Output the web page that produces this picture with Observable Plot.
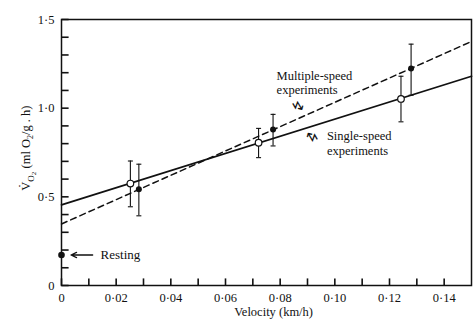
<!DOCTYPE html>
<html>
<head>
<meta charset="utf-8">
<script src="https://cdn.jsdelivr.net/npm/d3@7"></script>
<script src="https://cdn.jsdelivr.net/npm/@observablehq/plot@0.6"></script>
<style>
  html, body { margin: 0; padding: 0; background: #fff; }
  svg { font-family: "Liberation Serif", "DejaVu Serif", serif; }
</style>
</head>
<body>
<div id="chart"></div>
<script>
// ---- data ----
const singleV   = [0.0252, 0.0721, 0.1242];
const singleVO2 = [0.575, 0.805, 1.052];
const singleLo  = [0.444, 0.721, 0.923];
const singleHi  = [0.702, 0.886, 1.180];

const multiV   = [0.0283, 0.0774, 0.1279];
const multiVO2 = [0.543, 0.880, 1.223];
const multiLo  = [0.393, 0.787, 1.073];
const multiHi  = [0.684, 0.965, 1.361];

const restingV   = [0];
const restingVO2 = [0.172];

const fitV         = [0, 0.15];
const singleFitVO2 = [0.455, 1.180];
const multiFitVO2  = [0.347, 1.376];

const xMajorTicks  = [0, 0.02, 0.04, 0.06, 0.08, 0.10, 0.12, 0.14];
const xTickLabels  = ["0", "0·02", "0·04", "0·06", "0·08", "0·10", "0·12", "0·14"];
const xMinorTicks  = [0.01, 0.03, 0.05, 0.07, 0.09, 0.11, 0.13];
const yMajorTicks  = [0, 0.5, 1.0, 1.5];
const yTickLabels  = ["0", "0·5", "1·0", "1·5"];
const yMinorTicks  = [0.1, 0.2, 0.3, 0.4, 0.6, 0.7, 0.8, 0.9, 1.1, 1.2, 1.3, 1.4];

const xLabel = "Velocity (km/h)";
const yLabelPos = [{v: 0, vo2: 0.775}];
const xLabelPos = [{v: 0.0776}];

const notes = [
  {v: 0.0787, vo2: 1.145, text: "Multiple-speed\nexperiments"},
  {v: 0.0971, vo2: 0.805, text: "Single-speed\nexperiments"}
];
const squiggles = [
  {v: 0.0867, vo2: 1.009, rot: -40},
  {v: 0.0915, vo2: 0.842, rot: 140}
];
const restingArrow = [{v1: 0.0114, v2: 0.0035, vo2: 0.172}];
const restingNote  = [{v: 0.0143, vo2: 0.172, text: "Resting"}];

// tick mark lengths in data units (about 7 px)
const xTickLen = 0.040;
const yTickLen = 0.0026;

// ---- build tables ----
const single = singleV.map((v, i) => ({v, vo2: singleVO2[i], lo: singleLo[i], hi: singleHi[i]}));
const multi  = multiV.map((v, i) => ({v, vo2: multiVO2[i], lo: multiLo[i], hi: multiHi[i]}));
const bars = single.concat(multi);
const resting = restingV.map((v, i) => ({v, vo2: restingVO2[i]}));
const singleFit = fitV.map((v, i) => ({v, vo2: singleFitVO2[i]}));
const multiFit  = fitV.map((v, i) => ({v, vo2: multiFitVO2[i]}));
const xTickRows = xMajorTicks.concat(xMinorTicks).map(t => ({t, a: 0, b: xTickLen}));
const yTickRows = yMajorTicks.concat(yMinorTicks).map(t => ({t, a: 0, b: yTickLen}));

const hline = { draw(ctx, size) { const w = Math.sqrt(size / Math.PI); ctx.moveTo(-w, 0); ctx.lineTo(w, 0); } };

const xFmt = d => xTickLabels[xMajorTicks.findIndex(t => Math.abs(t - d) < 1e-9)];
const yFmt = d => yTickLabels[yMajorTicks.findIndex(t => Math.abs(t - d) < 1e-9)];

const plot = Plot.plot({
  width: 474,
  height: 336,
  marginLeft: 61,
  marginRight: 3,
  marginTop: 19,
  marginBottom: 51,
  style: {fontFamily: "'Liberation Serif', serif", fontSize: "12px", color: "#111", background: "#fff"},
  x: {domain: [0, 0.15]},
  y: {domain: [0, 1.5]},
  marks: [
    Plot.frame({stroke: "#111", strokeWidth: 1.5}),
    // inward ticks
    Plot.link(xTickRows, {x1: "t", x2: "t", y1: "a", y2: "b", stroke: "#111", strokeWidth: 1.6}),
    Plot.link(yTickRows, {y1: "t", y2: "t", x1: "a", x2: "b", stroke: "#111", strokeWidth: 1.6}),
    // labels
    Plot.axisX(xMajorTicks, {tickSize: 0, tickPadding: 8, tickFormat: xFmt, fontSize: 12.5, label: null}),
    Plot.axisY(yMajorTicks, {tickSize: 0, tickPadding: 7, tickFormat: yFmt, fontSize: 12.5, label: null}),
    Plot.text(xLabelPos, {x: "v", frameAnchor: "bottom", dy: 30, text: () => xLabel, fontSize: 12.5, fill: "#111"}),
    Plot.text(yLabelPos, {x: "v", y: "vo2", dx: -36, rotate: -90, text: () => "YLABEL", fontSize: 12.5, fill: "#111"}),
    // fitted lines
    Plot.line(singleFit, {x: "v", y: "vo2", stroke: "#111", strokeWidth: 1.8}),
    Plot.line(multiFit, {x: "v", y: "vo2", stroke: "#111", strokeWidth: 1.5, strokeDasharray: "6,4"}),
    // error bars
    Plot.ruleX(bars, {x: "v", y1: "lo", y2: "hi", stroke: "#111", strokeWidth: 1.1}),
    Plot.dot(bars, {x: "v", y: "lo", symbol: hline, r: 2.5, stroke: "#111", strokeWidth: 1.1}),
    Plot.dot(bars, {x: "v", y: "hi", symbol: hline, r: 2.5, stroke: "#111", strokeWidth: 1.1}),
    // points
    Plot.dot(single, {x: "v", y: "vo2", r: 3.3, fill: "#fff", stroke: "#111", strokeWidth: 1.2}),
    Plot.dot(multi, {x: "v", y: "vo2", r: 3, fill: "#111", stroke: "none"}),
    Plot.dot(resting, {x: "v", y: "vo2", r: 3.3, fill: "#111", stroke: "none"}),
    // annotations
    Plot.text(notes, {x: "v", y: "vo2", text: "text", textAnchor: "start", lineHeight: 1.15, fontSize: 12.5, fill: "#111"}),
    Plot.text(squiggles, {x: "v", y: "vo2", text: () => "↯", rotate: "rot", fontFamily: "DejaVu Sans", fontSize: 15, fill: "#111"}),
    Plot.arrow(restingArrow, {x1: "v1", x2: "v2", y1: "vo2", y2: "vo2", stroke: "#111", strokeWidth: 1.3, headLength: 7, headAngle: 50}),
    Plot.text(restingNote, {x: "v", y: "vo2", text: "text", textAnchor: "start", fontSize: 13, fill: "#111"})
  ]
});

// rich y label with subscripts
const lab = Array.from(plot.querySelectorAll("text")).find(t => t.textContent === "YLABEL");
if (lab) {
  const ns = "http://www.w3.org/2000/svg";
  const tgt = lab.querySelector("tspan") || lab;
  tgt.textContent = "";
  const add = (s, attrs) => { const ts = document.createElementNS(ns, "tspan"); ts.textContent = s; for (const k in attrs) ts.setAttribute(k, attrs[k]); tgt.appendChild(ts); };
  add("V\u0307", {});
  add("O", {dy: "4", "font-size": "9"});
  add("2", {dy: "2", "font-size": "7"});
  add(" (ml O", {dy: "-6", "font-size": "12.5"});
  add("2", {dy: "3", "font-size": "8"});
  add("/g . h)", {dy: "-3", "font-size": "12.5"});
}

document.getElementById("chart").appendChild(plot);
</script>
</body>
</html>
